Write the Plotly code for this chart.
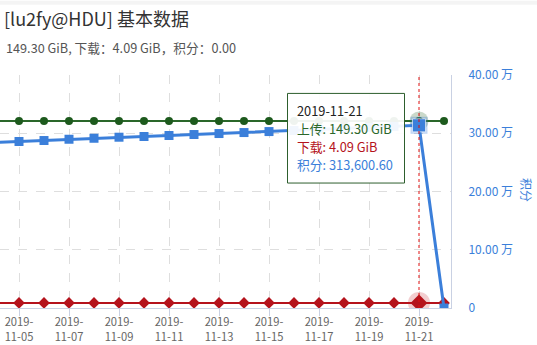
import plotly.graph_objects as go

# ---- data ----
dates = ["2019-11-03", "2019-11-04", "2019-11-05", "2019-11-06", "2019-11-07", "2019-11-08",
         "2019-11-09", "2019-11-10", "2019-11-11", "2019-11-12", "2019-11-13", "2019-11-14",
         "2019-11-15", "2019-11-16", "2019-11-17", "2019-11-18", "2019-11-19", "2019-11-20",
         "2019-11-21", "2019-11-22"]
upload_gib = [149.30] * 20
download_gib = [4.09] * 20
score = [282400, 284100, 285800, 287500, 289700, 291400, 293200, 294400, 296100, 297800,
         299500, 301200, 302900, 304700, 306400, 308200, 310000, 311800, 313600.60, 0]
tick_days = ["2019-11-05", "2019-11-07", "2019-11-09", "2019-11-11", "2019-11-13",
             "2019-11-15", "2019-11-17", "2019-11-19", "2019-11-21"]
score_ticks = [0, 100000, 200000, 300000, 400000]
score_tick_text = ["0", "10.00 万", "20.00 万", "30.00 万", "40.00 万"]

title_text = "[lu2fy@HDU] 基本数据"
subtitle_text = "149.30 GiB, 下载：4.09 GiB，积分：0.00"

GREEN = "#2a672a"
GREEN_M = "#1d5a1d"
RED = "#b5131c"
BLUE = "#3b7fda"
FONT = "Noto Sans CJK SC, Open Sans, sans-serif"

W, H = 537, 345
L, R, T, B = 0, 86, 74.5, 36.5
PW = W - L - R
PH = H - T - B


def px(xp):
    return (xp - L) / PW


def py(yp):
    return 1 - (yp - T) / PH


hi = len(dates) - 2  # highlighted (hovered) point

fig = go.Figure()
fig.add_trace(go.Scatter(x=dates, y=upload_gib, mode="lines+markers", yaxis="y",
                         line=dict(color=GREEN, width=2),
                         marker=dict(symbol="circle", size=8, color=GREEN_M)))
fig.add_trace(go.Scatter(x=dates, y=download_gib, mode="lines+markers", yaxis="y",
                         line=dict(color=RED, width=2),
                         marker=dict(symbol="diamond", size=9, color=RED)))
fig.add_trace(go.Scatter(x=dates, y=score, mode="lines+markers", yaxis="y2",
                         line=dict(color=BLUE, width=3),
                         marker=dict(symbol="square", size=9, color=BLUE)))
# hover emphasis
fig.add_trace(go.Scatter(x=[dates[hi]], y=[upload_gib[hi]], mode="markers", yaxis="y",
                         marker=dict(size=19, color="rgba(42,103,42,0.25)")))
fig.add_trace(go.Scatter(x=[dates[hi]], y=[download_gib[hi]], mode="markers", yaxis="y",
                         marker=dict(size=22, color="rgba(200,30,40,0.22)")))
fig.add_trace(go.Scatter(x=[dates[hi]], y=[download_gib[hi]], mode="markers", yaxis="y",
                         marker=dict(symbol="diamond", size=13, color=RED)))
fig.add_trace(go.Scatter(x=[dates[hi]], y=[score[hi]], mode="markers", yaxis="y2",
                         marker=dict(symbol="square", size=17, color="rgba(59,127,218,0.3)")))
fig.add_trace(go.Scatter(x=[dates[hi]], y=[score[hi]], mode="markers", yaxis="y2",
                         marker=dict(symbol="square", size=13, color=BLUE,
                                     line=dict(color="rgba(255,255,255,0.6)", width=1))))

# crosshair
fig.add_shape(type="line", xref="x", yref="paper", x0=dates[hi], x1=dates[hi], y0=0, y1=1,
              line=dict(color="#e01010", width=1, dash="dot"))
# top band
fig.add_shape(type="rect", xref="paper", yref="paper", x0=0, x1=W / PW,
              y0=py(4), y1=py(0), fillcolor="#f4f4f4", line_width=0, layer="below")

# tooltip box + lines
fig.add_shape(type="rect", xref="paper", yref="paper", x0=px(287.5), x1=px(404.5),
              y0=py(183), y1=py(93), fillcolor="rgba(255,255,255,0.93)",
              line=dict(color="#2d5e2d", width=1), layer="above")
tip_lines = [
    (f"{dates[hi]}", "#222", 110),
    (f"上传: {upload_gib[hi]:.2f} GiB", GREEN, 128),
    (f"下载: {download_gib[hi]:.2f} GiB", RED, 146),
    (f"积分: {score[hi]:,.2f}", BLUE, 164),
]
for txt, col, yc in tip_lines:
    fig.add_annotation(text=txt, xref="paper", yref="paper", x=px(295), y=py(yc),
                       xanchor="left", yanchor="middle", showarrow=False,
                       font=dict(family=FONT, size=12.8, color=col))

fig.add_annotation(text=subtitle_text, xref="paper", yref="paper", x=px(4),
                   y=py(47), xanchor="left", yanchor="middle", showarrow=False,
                   font=dict(family=FONT, size=12.7, color="#555"))
fig.add_annotation(text="积分", xref="paper", yref="paper", x=px(527), y=py(190),
                   xanchor="center", yanchor="middle", showarrow=False, textangle=90,
                   font=dict(family=FONT, size=12, color=BLUE))

fig.update_layout(
    width=W, height=H, margin=dict(l=L, r=R, t=T, b=B, autoexpand=False),
    paper_bgcolor="white", plot_bgcolor="white", showlegend=False,
    title=dict(text=title_text, xref="container", yref="container", x=4 / W,
               xanchor="left", y=1 - 20 / H, yanchor="middle",
               font=dict(family=FONT, size=18, color="#333")),
    xaxis=dict(type="date", range=["2019-11-04 05:45:36", "2019-11-22 06:43:12"],
               tickvals=tick_days,
               ticktext=[d[:4] + "-<br>" + d[5:] for d in tick_days],
               showgrid=True, gridcolor="#dedede", griddash="dash", gridwidth=1,
               showline=True, linecolor="#c9d1e3", linewidth=1, automargin=False,
               ticks="outside", ticklen=7, tickcolor="#c9d1e3", ticklabelstandoff=-3,
               tickfont=dict(family=FONT, size=11.2, color="#666"), zeroline=False),
    yaxis=dict(range=[0, 186], visible=False, showgrid=False, zeroline=False),
    yaxis2=dict(overlaying="y", side="right", range=[0, 400000], tickvals=score_ticks,
                ticktext=score_tick_text, showgrid=True, gridcolor="#dedede", griddash="dash",
                showline=True, linecolor="#c9d1e3", linewidth=1, zeroline=False,
                ticks="", ticklabelstandoff=14, automargin=False,
                tickfont=dict(family=FONT, size=12, color=BLUE)),
)

fig.write_html("out.html")
